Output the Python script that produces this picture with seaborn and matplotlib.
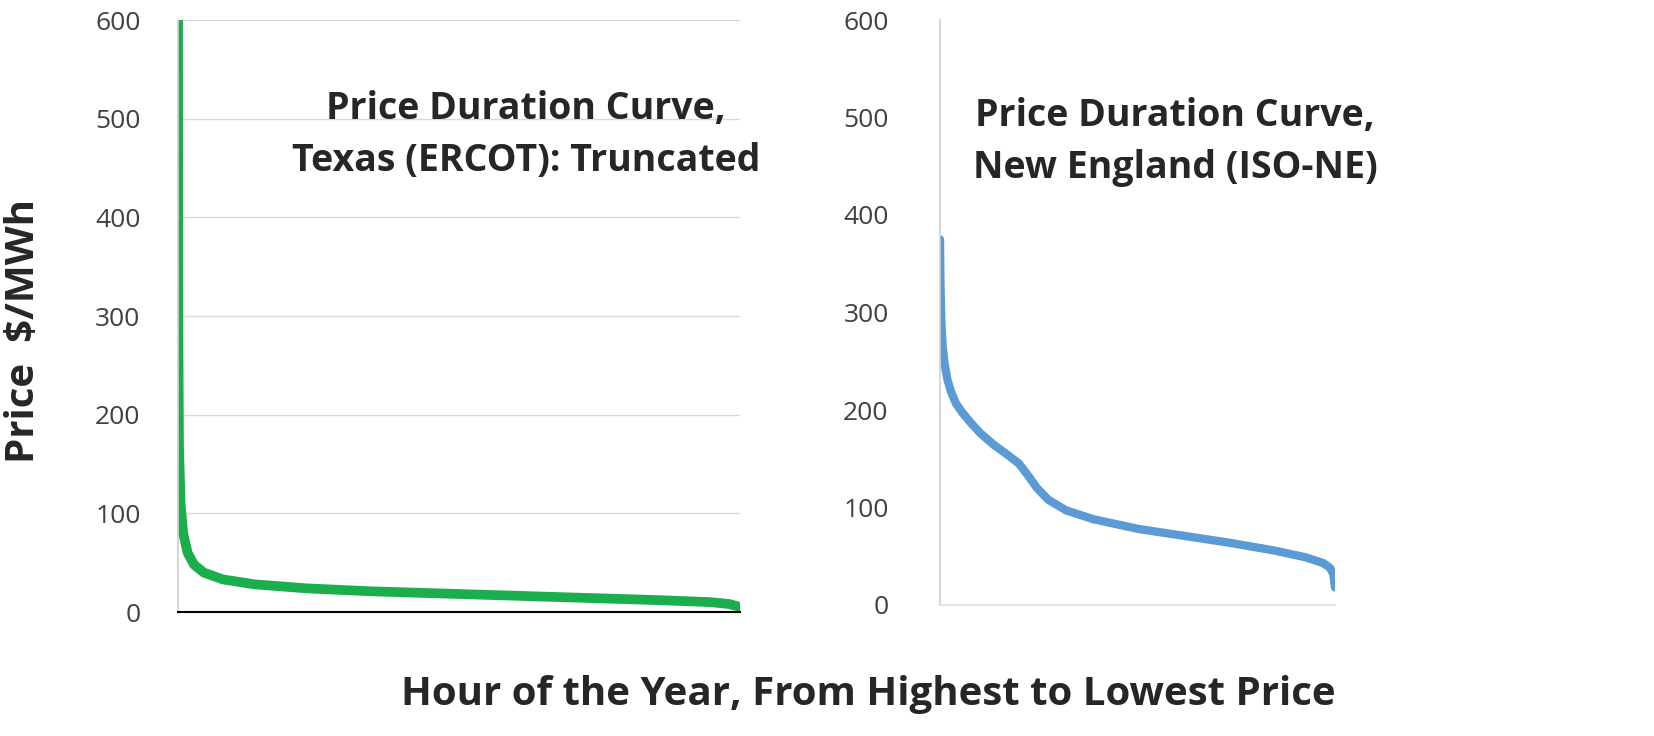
import numpy as np
import pandas as pd
import seaborn as sns
import matplotlib.pyplot as plt

# hour of the year (sorted) vs price
ercot_hours = [0, 5, 15, 40, 80, 150, 250, 400, 700, 1200, 2000, 3000, 4500, 6000, 7500, 8300, 8600, 8760]
ercot_price = [640, 300, 170, 110, 80, 60, 48, 40, 33, 28, 24, 21, 18, 15, 12, 10, 8, 5]

isone_hours = [0, 10, 30, 60, 100, 160, 250, 350, 500, 700, 900, 1200, 1500, 1750, 1950, 2150,
               2400, 2800, 3400, 4400, 5400, 6400, 7400, 8100, 8500, 8650, 8720, 8760]
isone_price = [375, 330, 290, 265, 248, 232, 218, 207, 197, 186, 176, 164, 154, 145, 133, 120,
               108, 97, 88, 78, 71, 64, 56, 49, 43, 38, 32, 18]

sns.set_theme(style="white")
plt.rcParams['font.family'] = ['Open Sans', 'DejaVu Sans']

W, H = 1654, 736
fig = plt.figure(figsize=(W / 100, H / 100), dpi=100)

ax1 = fig.add_axes([178 / W, (H - 612) / H, (740 - 178) / W, (612 - 20) / H])
ax2 = fig.add_axes([940 / W, (H - 605) / H, (1335 - 940) / W, (605 - 20) / H])

df1 = pd.DataFrame({"hour": ercot_hours, "price": ercot_price})
df2 = pd.DataFrame({"hour": isone_hours, "price": isone_price})
sns.lineplot(data=df1, x="hour", y="price", ax=ax1, color="#1aae4c", linewidth=7)
sns.lineplot(data=df2, x="hour", y="price", ax=ax2, color="#5b9bd5", linewidth=6)

for ax, pad in ((ax1, 27), (ax2, 37)):
    ax.set_xlim(0, 8760)
    ax.set_ylim(0, 600)
    ax.set_yticks(range(0, 601, 100))
    ax.set_xticks([])
    ax.set_xlabel("")
    ax.set_ylabel("")
    ax.tick_params(axis="y", labelsize=19, colors="#404040", length=0, pad=pad)
    for s in ("top", "right"):
        ax.spines[s].set_visible(False)
    ax.spines["left"].set_color("#d0d0d0")

ax1.grid(axis="y", color="#d9d9d9", linewidth=1)
ax1.spines["bottom"].set_color("black")
ax1.spines["bottom"].set_linewidth(1.5)
ax2.spines["bottom"].set_color("#e0e0e0")

fig.text(760 / W, 1 - 135 / H, "Price Duration Curve,\nTexas (ERCOT): Truncated",
         ha="right", va="center", fontsize=27, fontweight="bold", linespacing=1.45,
         multialignment="center")
fig.text(1175 / W, 1 - 142 / H, "Price Duration Curve,\nNew England (ISO-NE)",
         ha="center", va="center", fontsize=27, fontweight="bold", linespacing=1.45)

fig.text(24 / W, 0.55, "Price  $/MWh", rotation=90, ha="center", va="center",
         fontsize=29, fontweight="bold")
fig.text(868 / W, (H - 695) / H, "Hour of the Year, From Highest to Lowest Price", ha="center",
         va="center", fontsize=29, fontweight="bold")

fig.savefig("out.png", dpi=100)
